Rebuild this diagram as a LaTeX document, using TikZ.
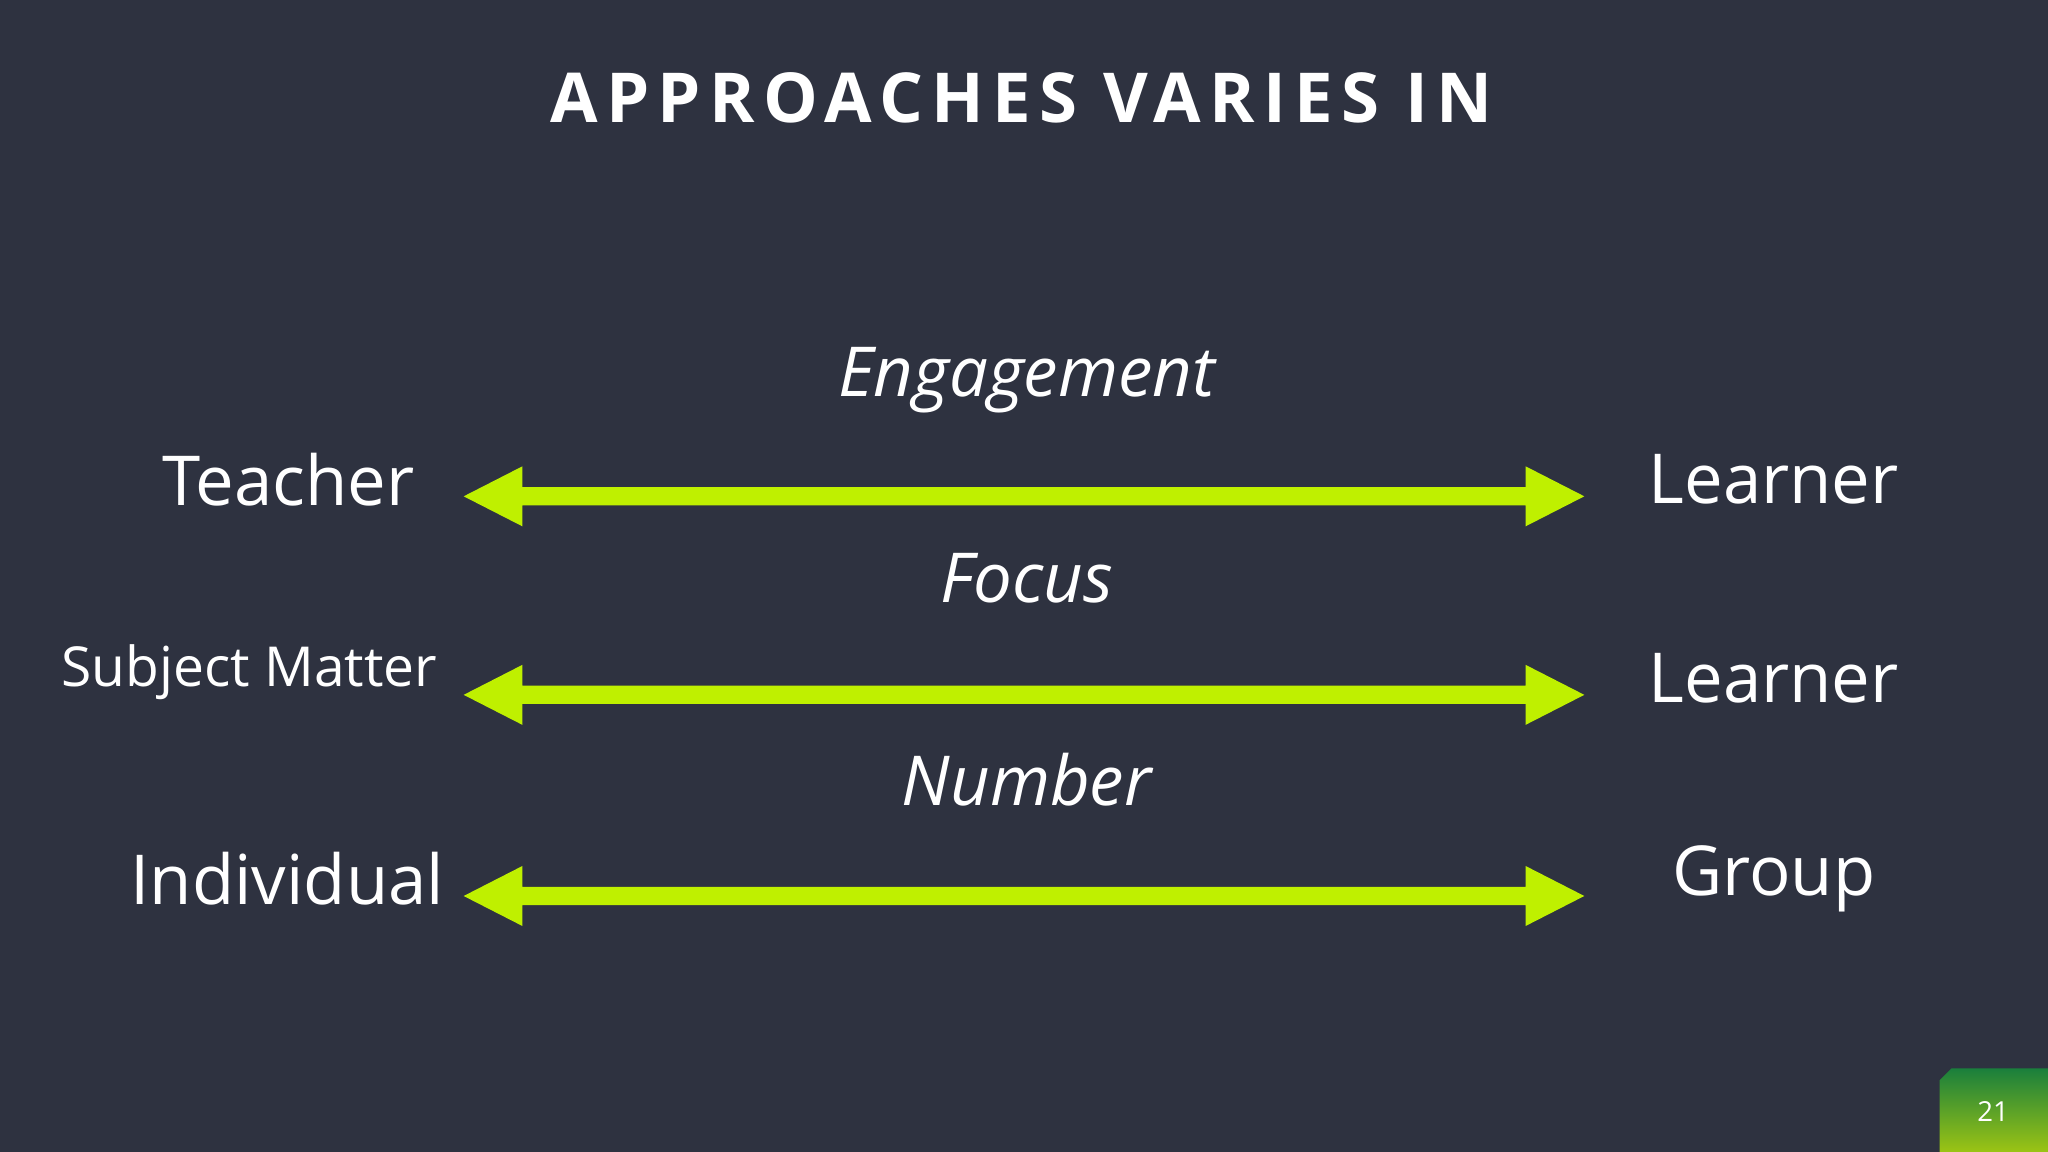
\documentclass[tikz,border=0pt]{standalone}
\usepackage{fontspec}
\setmainfont{Open Sans}
\definecolor{bg}{HTML}{2E3240}
\definecolor{lime}{HTML}{BFF000}
\definecolor{gtop}{HTML}{1A7F3C}
\definecolor{gmid}{HTML}{12B04A}
\definecolor{gbot}{HTML}{9CC414}
\begin{document}
\begin{tikzpicture}[x=0.01cm,y=-0.01cm,
  lbl/.style={text=white,font=\fontsize{15pt}{18pt}\selectfont},
  ital/.style={text=white,font=\fontsize{15pt}{18pt}\selectfont\itshape},
  dbl/.style={draw=none,fill=lime}]
\fill[bg] (0,0) rectangle (1568,882);
\useasboundingbox (0,0) rectangle (1568,882);
\node[text=white,font=\fontsize{15pt}{18pt}\selectfont\bfseries] (title) at (782,75) {\addfontfeature{LetterSpace=12}APPROACHES VARIES IN};
\foreach \y/\l/\r/\m/\n in {380/Teacher/Learner/Engagement/a, 532/Subject Matter/Learner/Focus/b, 686/Individual/Group/Number/c}{
  \fill[lime] (355,\y) -- (400,\y-23) -- (400,\y-7) -- (1168,\y-7) -- (1168,\y-23) -- (1213,\y) -- (1168,\y+23) -- (1168,\y+7) -- (400,\y+7) -- (400,\y+23) -- cycle;
  \node[ital] (m\n) at (786,\y-89) {\m};
  \node[lbl] (r\n) at (1358,\y-13) {\r};
}
\node[lbl] (la) at (221,367) {Teacher};
\node[lbl,font=\fontsize{12pt}{14pt}\selectfont] (lb) at (191,515) {Subject Matter};
\node[lbl] (lc) at (220,673) {Individual};
\shade[top color=gtop,middle color=gmid,bottom color=gbot] (1485,827) -- (1494,818) -- (1568,818) -- (1568,882) -- (1485,882) -- cycle;
\node[text=white,font=\fontsize{6pt}{7pt}\selectfont] (pg) at (1526,851) {21};
\end{tikzpicture}
\end{document}
